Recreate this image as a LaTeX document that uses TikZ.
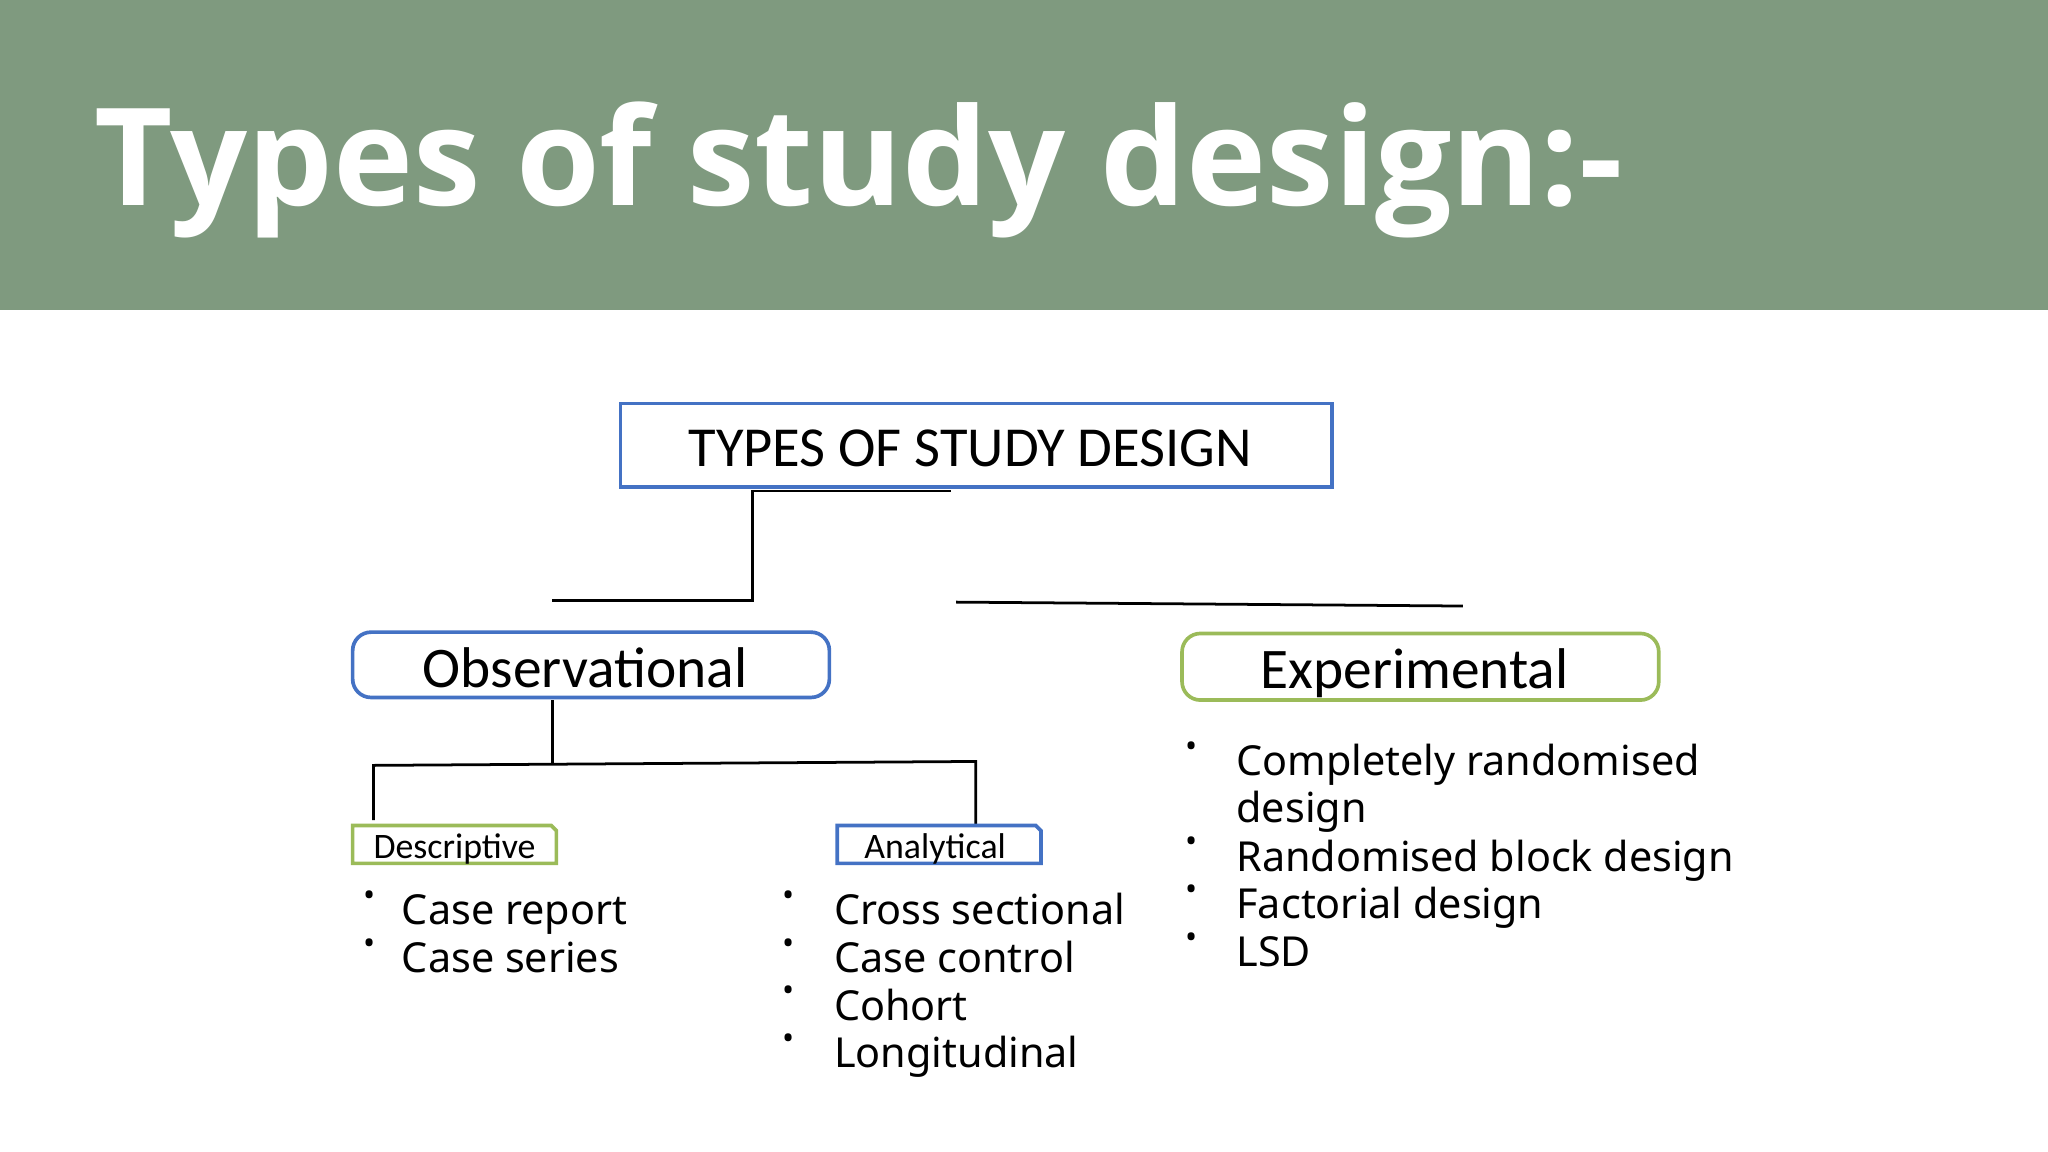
\documentclass[tikz,border=0pt]{standalone}
\usepackage{fontspec}
\setmainfont{Noto Sans}
\newfontfamily\carl{Carlito}
\newfontfamily\titlef{Open Sans}
\definecolor{band}{HTML}{7F9A7F}
\definecolor{bblue}{HTML}{4472C4}
\definecolor{bgreen}{HTML}{9BBB59}
\tikzset{
 conn/.style={line width=0.6pt,black},
 item/.style={anchor=base west,inner sep=0pt,font=\fontsize{9}{9}\selectfont},
 dot/.style={anchor=base,inner sep=0pt,font=\fontsize{7}{7}\selectfont},
 lab/.style={anchor=base,inner sep=0pt,font=\carl\fontsize{12.5}{12.5}\selectfont},
 small/.style={anchor=base,inner sep=0pt,font=\carl\fontsize{7.8}{7.8}\selectfont},
}
\begin{document}
\begin{tikzpicture}[x=0.01cm,y=-0.01cm]
\useasboundingbox (0,0) rectangle (1568,882);
\fill[band] (0,0) rectangle (1568,237);
\node[anchor=base west,inner sep=0pt,text=white,font=\titlef\bfseries\fontsize{29.5}{29.5}\selectfont] (title) at (72,157) {Types of study design:-};
% top box
\draw[bblue,line width=0.8pt] (475,309) rectangle (1020,373);
\node[lab,font=\carl\fontsize{12.3}{12.3}\selectfont] (top) at (743,357) {TYPES OF STUDY DESIGN};
\coordinate (t1) at (728,376); \coordinate (t2) at (576,376);
\coordinate (t3) at (576,460); \coordinate (t4) at (423,460);
\draw[conn] (t1) -- (t2) -- (t3) -- (t4);
\coordinate (e1) at (732,461); \coordinate (e2) at (1120,464);
\draw[conn] (e1) -- (e2);
% observational
\draw[bblue,line width=0.8pt,rounded corners=4pt] (270,484) rectangle (635,534);
\node[lab] (obs) at (448,526) {Observational};
\draw[bgreen,line width=0.8pt,rounded corners=4pt] (905,485) rectangle (1270,536);
\node[lab] (exp) at (1083,527) {Experimental};
% connectors
\coordinate (o1) at (423,536); \coordinate (o2) at (423,585);
\coordinate (h1) at (286,586); \coordinate (h2) at (747,583);
\coordinate (d1) at (286,628); \coordinate (a1) at (747,632);
\draw[conn] (o1) -- (o2);
\draw[conn] (d1) -- (h1) -- (h2) -- (a1);
% small boxes
\draw[bgreen,line width=0.8pt] (270,632) -- (422,632) -- (426,636) -- (426,661) -- (270,661) -- cycle;
\node[small] (desc) at (348,657) {Descriptive};
\draw[bblue,line width=0.8pt] (641,632) -- (793,632) -- (797,636) -- (797,661) -- (641,661) -- cycle;
\node[small] (ana) at (716,657) {Analytical};
% lists
\foreach \t [count=\i] in {Case report,Case series}{
 \node[dot] at (283,694+36.5*\i-36.5) {•};
 \node[item] at (307,708+36.5*\i-36.5) {\t};}
\foreach \t [count=\i] in {Cross sectional,Case control,Cohort,Longitudinal}{
 \node[dot] at (604,694+36.5*\i-36.5) {•};
 \node[item] at (638,708+36.5*\i-36.5) {\t};}
\node[dot] at (912,580) {•};
\node[item] at (946,594) {Completely randomised};
\node[item] at (946,630) {design};
\foreach \t [count=\i] in {Randomised block design,Factorial design,LSD}{
 \node[dot] at (912,653+36.5*\i-36.5) {•};
 \node[item] at (946,667+36.5*\i-36.5) {\t};}
\end{tikzpicture}
\end{document}
